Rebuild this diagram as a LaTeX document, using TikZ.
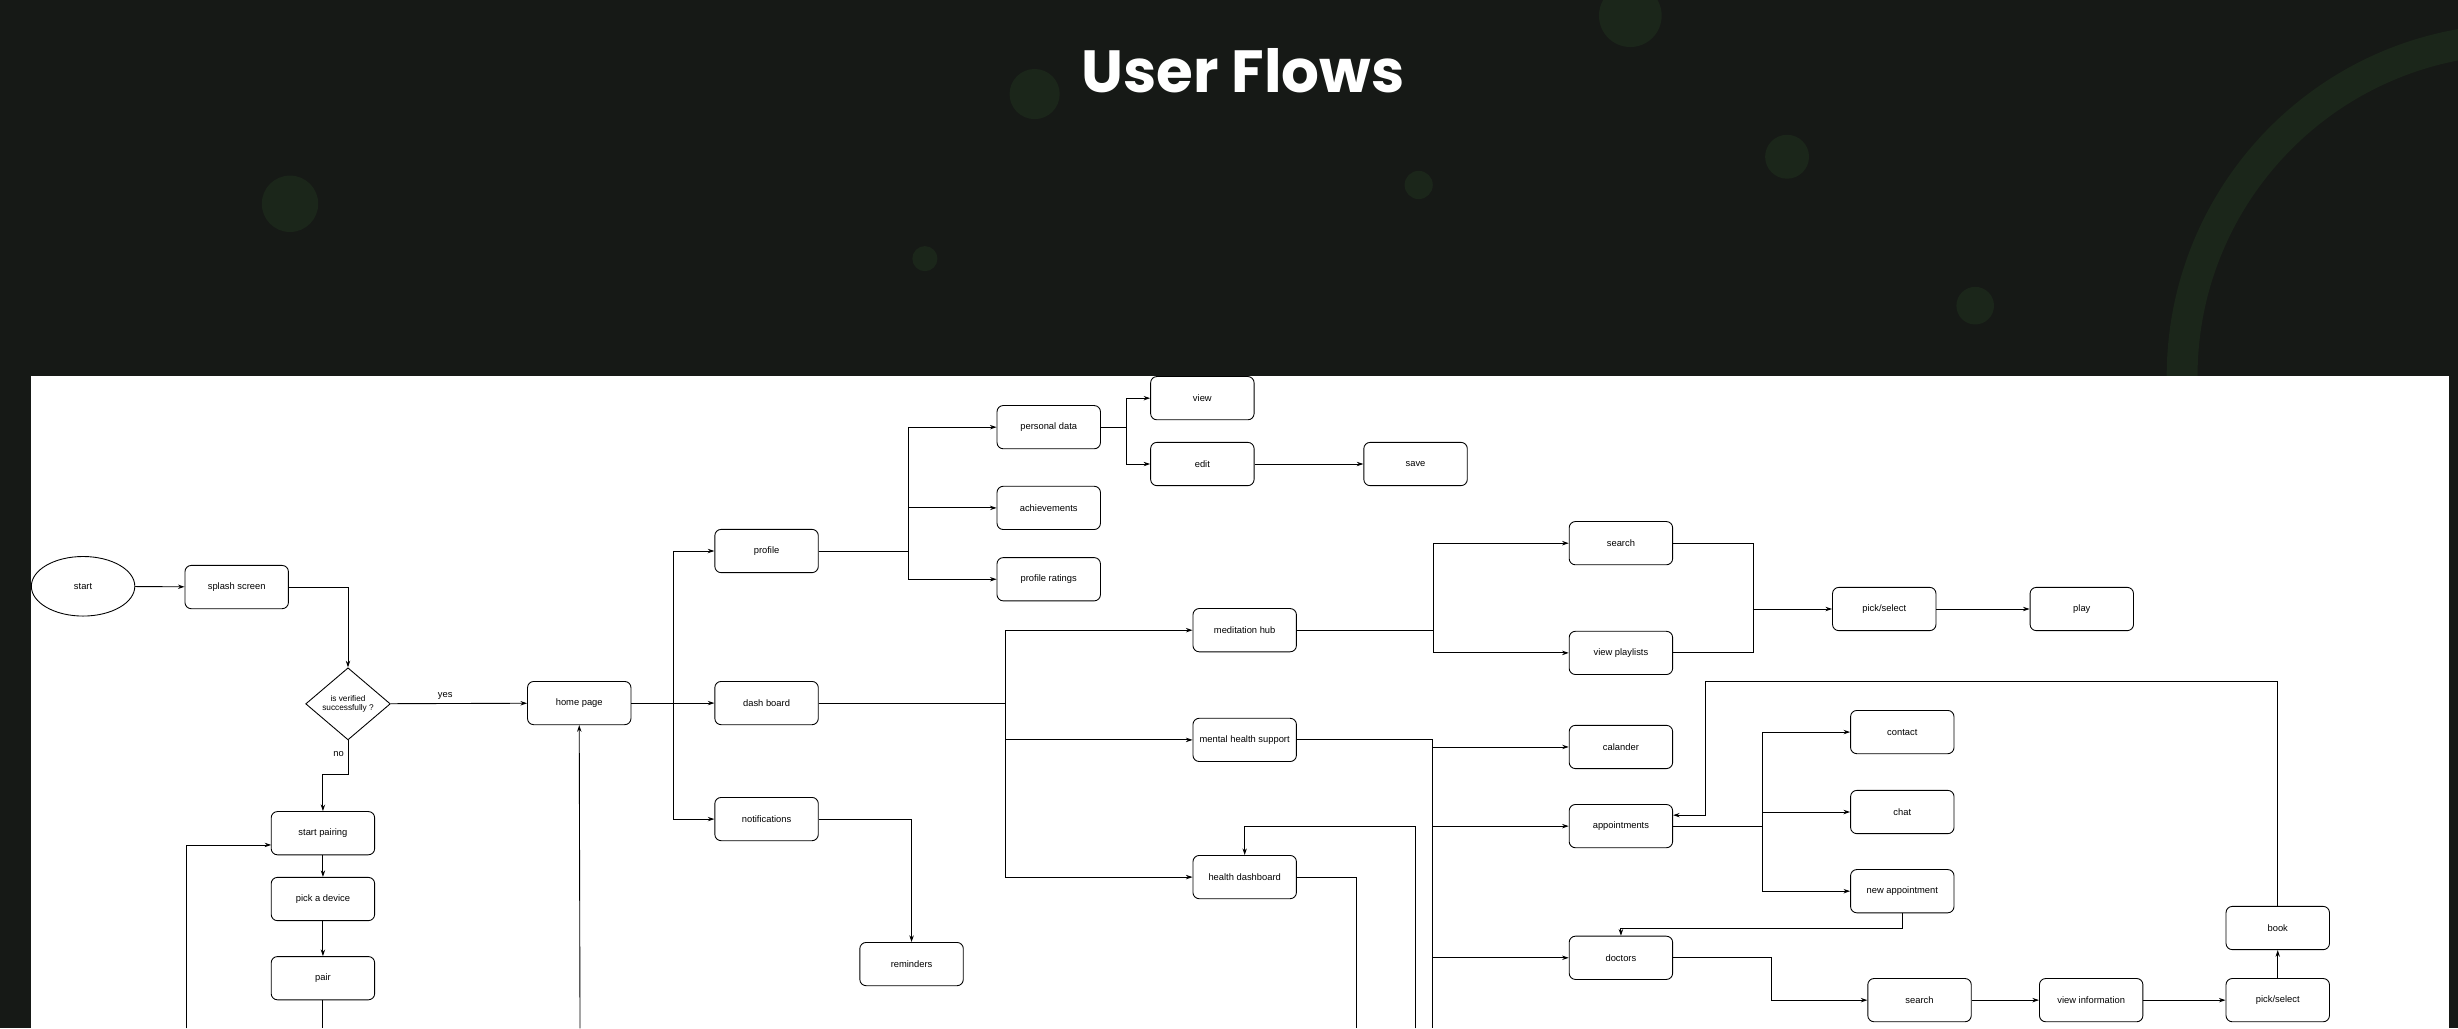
\documentclass[tikz,border=0pt]{standalone}
\usepackage{fontspec}
\setmainfont{Liberation Sans}
\newfontfamily\titlefont{Poppins}
\usetikzlibrary{shapes.geometric,arrows.meta}
\definecolor{bgc}{RGB}{22,25,22}
\definecolor{blob}{RGB}{27,38,26}
\begin{document}
\begin{tikzpicture}[x=0.05cm,y=-0.05cm,
  box/.style={draw,rounded corners=0.2cm,minimum width=3.3cm,minimum height=1.38cm,inner sep=0pt,font=\fontsize{8.5}{10}\selectfont,line width=0.8pt},
  con/.style={line width=0.8pt},
  arr/.style={con,-{Stealth[length=6pt,width=4pt]}},
  lbl/.style={font=\fontsize{8.5}{10}\selectfont}]
\useasboundingbox (0,0) rectangle (1568,656);
\fill[bgc] (0,0) rectangle (1568,656);
\fill[blob] (660,60) circle (16);
\fill[blob] (1140,100) circle (14);
\fill[blob] (1260,195) circle (12);
\fill[blob] (185,130) circle (18);
\fill[blob] (1040,10) circle (20);
\fill[blob] (590,165) circle (8);
\fill[blob] (905,118) circle (9);
\draw[blob,line width=28pt] (1392,240) arc (180:262:215);
\node[font=\titlefont\bfseries\fontsize{54}{60}\selectfont,text=white] (title) at (793,45) {User Flows};
\fill[white] (20,240) rectangle (1562,656);

\node[draw,ellipse,minimum width=3.3cm,minimum height=1.9cm,line width=0.8pt,lbl] (start) at (53,374) {start};
\node[box] (splash) at (151,374.5) {splash screen};
\node[draw,diamond,minimum width=2.7cm,minimum height=2.3cm,inner sep=0pt,line width=0.8pt,align=center,font=\fontsize{7.5}{8}\selectfont] (ver) at (222,449) {is verified\\successfully ?};
\node[box] (home) at (369.5,448.5) {home page};
\node[box] (sp) at (206,531.5) {start pairing};
\node[box] (pick) at (206,573.5) {pick a device};
\node[box] (pair) at (206,624) {pair};
\node[box] (prof) at (489,351.5) {profile};
\node[box] (dash) at (489,448.5) {dash board};
\node[box] (notif) at (489,522.5) {notifications};
\node[box] (rem) at (581.5,615) {reminders};
\node[box] (pd) at (669,272.5) {personal data};
\node[box] (ach) at (669,324) {achievements};
\node[box] (pr) at (669,369.5) {profile ratings};
\node[box] (view) at (767,254) {view};
\node[box] (edit) at (767,296) {edit};
\node[box] (save) at (903,296) {save};
\node[box] (med) at (794,402) {meditation hub};
\node[box] (mhs) at (794,472) {mental health support};
\node[box] (hd) at (794,559.5) {health dashboard};
\node[box] (s1) at (1034,346.5) {search};
\node[box] (vp) at (1034,416.5) {view playlists};
\node[box] (ps1) at (1202,388.5) {pick/select};
\node[box] (play) at (1328,388.5) {play};
\node[box] (cal) at (1034,476.5) {calander};
\node[box] (app) at (1034,527) {appointments};
\node[box] (doc) at (1034,611) {doctors};
\node[box] (cont) at (1213.5,467) {contact};
\node[box] (chat) at (1213.5,518) {chat};
\node[box] (na) at (1213.5,568.5) {new appointment};
\node[box] (book) at (1453,592) {book};
\node[box] (ps2) at (1453,638) {pick/select};
\node[box] (vi) at (1334,638) {view information};
\node[box] (s2) at (1224.5,638) {search};
\coordinate (bl) at (119,656);
\coordinate (bh) at (370,656);
\coordinate (bp) at (206,656);
\coordinate (b914) at (914,656);
\coordinate (b903) at (903,656);
\coordinate (b865) at (865,656);

\draw[arr] (start) -- (splash);
\draw[arr] (splash.east) -| (ver.north);
\draw[arr] (ver) -- node[above,lbl,pos=0.4]{yes} (home);
\draw[arr] (ver.south) -- node[left,lbl,pos=0.4]{no} ++(0,22) -| (sp.north);
\draw[arr] (sp) -- (pick);
\draw[arr] (pick) -- (pair);
\draw[con] (pair) -- (bp);
\draw[arr] (bl) |- (173,539);
\draw[arr] (bh) -- (home.south);
\draw[arr] (home.east) -- ++(27,0) |- (prof);
\draw[arr] (home.east) -- (dash);
\draw[arr] (home.east) -- ++(27,0) |- (notif);
\draw[arr] (notif.east) -| (rem.north);
\draw[arr] (prof.east) -- ++(57,0) |- (pd);
\draw[arr] (prof.east) -- ++(57,0) |- (ach);
\draw[arr] (prof.east) -- ++(57,0) |- (pr);
\draw[arr] (pd.east) -- ++(16,0) |- (view);
\draw[arr] (pd.east) -- ++(16,0) |- (edit);
\draw[arr] (edit) -- (save);
\draw[arr] (dash.east) -- ++(119,0) |- (med);
\draw[arr] (dash.east) -- ++(119,0) |- (mhs);
\draw[arr] (dash.east) -- ++(119,0) |- (hd);
\draw[arr] (med.east) -- ++(87,0) |- (s1);
\draw[arr] (med.east) -- ++(87,0) |- (vp);
\draw[con] (s1.east) -- ++(51,0) |- (vp.east);
\draw[arr] (1118,388.5) -- (ps1);
\draw[arr] (ps1) -- (play);
\draw[con] (mhs.east) -| (b914);
\draw[arr] (914,476.5) -- (cal);
\draw[arr] (914,527) -- (app);
\draw[arr] (914,611) -- (doc);
\draw[arr] (b903) |- (794,527) -- (hd.north);
\draw[con] (hd.east) -| (b865);
\draw[arr] (app.east) -- ++(57,0) |- (cont);
\draw[arr] (app.east) -- ++(57,0) |- (chat);
\draw[arr] (app.east) -- ++(57,0) |- (na);
\draw[arr] (na.south) |- (1034,592) -- (doc.north);
\draw[arr] (doc.east) -- ++(63,0) |- (s2);
\draw[arr] (s2) -- (vi);
\draw[arr] (vi) -- (ps2);
\draw[arr] (ps2) -- (book);
\draw[arr] (book.north) |- (1088,435) |- (app.east |- 0,520);
\end{tikzpicture}
\end{document}
